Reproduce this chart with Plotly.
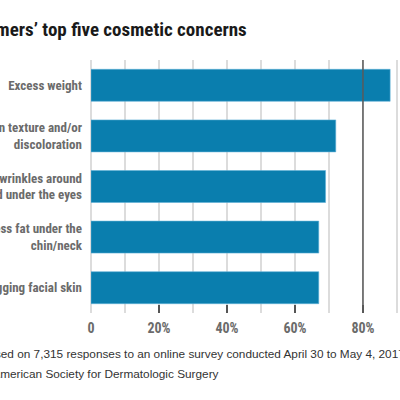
import plotly.graph_objects as go

categories = ["Excess weight",
              "Skin texture and/or<br>discoloration",
              "Lines and wrinkles around<br>and under the eyes",
              "Excess fat under the<br>chin/neck",
              "Sagging facial skin"]
values = [88, 72, 69, 67, 67]
tick_vals = [0, 20, 40, 60, 80]
tick_text = ["0", "20%", "40%", "60%", "80%"]
highlight_line = 80

title = "Consumers’ top five cosmetic concerns"
note_lines = ["Note: Based on 7,315 responses to an online survey conducted April 30 to May 4, 2017",
              "Source: American Society for Dermatologic Surgery"]

NARROW = "Roboto Condensed, DejaVu Sans Condensed, sans-serif"

fig = go.Figure(go.Bar(
    x=values, y=categories, orientation="h",
    marker=dict(color="#0a7eae", line=dict(color="#5fb0d6", width=0.6)),
))

fig.update_layout(
    width=400, height=400,
    margin=dict(l=91, r=0, t=60, b=87),
    paper_bgcolor="white", plot_bgcolor="white",
    bargap=0.368,
    showlegend=False,
    xaxis=dict(range=[0, 90.9], tickvals=tick_vals, ticktext=tick_text,
               showgrid=True, gridcolor="#dcdcdc", gridwidth=1.5,
               zeroline=True, zerolinecolor="#dcdcdc", zerolinewidth=1.5,
               ticks="inside", ticklen=8, tickwidth=1.5, tickcolor="#555",
               minor=dict(dtick=10, tick0=0, showgrid=True, gridcolor="#dcdcdc", gridwidth=1.5),
               tickfont=dict(family=NARROW, size=14, color="#6b6b6b", weight="bold"),
               ticklabelstandoff=5,
               showline=False, fixedrange=True),
    yaxis=dict(autorange="reversed", ticks="", showgrid=False,
               tickfont=dict(family=NARROW, size=13, color="#6b6b6b", weight="bold"),
               ticklabelstandoff=8, automargin=False),
)

fig.add_shape(type="line", xref="x", yref="paper", x0=highlight_line, x1=highlight_line,
              y0=0, y1=1, line=dict(color="#5a5a5a", width=1.5), layer="above")

fig.add_annotation(text="<b>" + title + "</b>", xref="paper", yref="paper",
                   x=(249 - 91) / 309, y=1 + (60 - 29) / 253, xanchor="right", yanchor="middle",
                   showarrow=False, font=dict(family=NARROW, size=19, color="#1a1a1a"))

for i, line in enumerate(note_lines):
    fig.add_annotation(text=line, xref="paper", yref="paper",
                       x=(-53 - 91) / 309, y=-(354 + 20 * i - 313) / 253, xanchor="left", yanchor="middle",
                       align="left", showarrow=False,
                       font=dict(family="Liberation Sans, Arial, sans-serif", size=11.8, color="#333"))

fig.write_html("out.html")
